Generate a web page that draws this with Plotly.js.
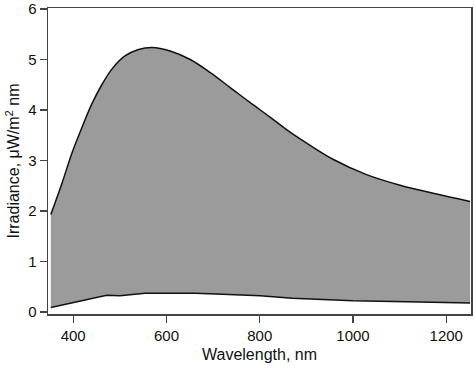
<!DOCTYPE html>
<html>
<head>
<meta charset="utf-8">
<script src="https://cdn.plot.ly/plotly-3.0.1.min.js"></script>
<style>html,body{margin:0;padding:0;background:#fff;}#chart{width:474px;height:370px;}</style>
</head>
<body>
<div id="chart"></div>
<script>
var upperWavelength = [352, 376, 397, 419, 440, 462, 483, 511, 540, 569, 608, 651, 694, 736, 779, 822, 865, 908, 958, 1029, 1101, 1172, 1251];
var upperIrradiance = [1.93, 2.55, 3.14, 3.66, 4.12, 4.51, 4.81, 5.07, 5.20, 5.24, 5.17, 5.00, 4.74, 4.45, 4.15, 3.86, 3.56, 3.30, 3.02, 2.72, 2.51, 2.35, 2.19];
var lowerWavelength = [352, 400, 440, 472, 500, 554, 620, 661, 720, 769, 801, 870, 944, 1000, 1086, 1170, 1251];
var lowerIrradiance = [0.09, 0.19, 0.27, 0.33, 0.32, 0.37, 0.37, 0.37, 0.35, 0.33, 0.32, 0.27, 0.24, 0.22, 0.21, 0.2, 0.18];
var xTicks = [400, 600, 800, 1000, 1200];
var yTicks = [0, 1, 2, 3, 4, 5, 6];

var traces = [
  {x: lowerWavelength, y: lowerIrradiance, mode: 'lines', line: {color: '#111', width: 1.5}, showlegend: false, hoverinfo: 'skip'},
  {x: upperWavelength, y: upperIrradiance, mode: 'lines', line: {color: '#111', width: 1.5, shape: 'spline', smoothing: 1},
   fill: 'tonexty', fillcolor: '#9b9b9b', showlegend: false, hoverinfo: 'skip'}
];
var font = {family: 'Liberation Sans, Arial, sans-serif', size: 15, color: '#111'};
var layout = {
  width: 474, height: 370,
  margin: {l: 48, r: 3, t: 8, b: 56},
  paper_bgcolor: '#fff', plot_bgcolor: '#fff',
  font: font,
  xaxis: {
    range: [346, 1253], tickvals: xTicks, ticktext: xTicks.map(String),
    ticks: 'outside', ticklen: 7, tickcolor: '#444', tickwidth: 1.2,
    showline: true, linecolor: '#444', linewidth: 1.5, mirror: true,
    showgrid: false, zeroline: false, tickfont: {size: 15},
    title: {text: 'Wavelength, nm', font: {size: 16}, standoff: 6}
  },
  yaxis: {
    range: [-0.04, 6.02], tickvals: yTicks, ticktext: yTicks.map(String),
    ticks: 'outside', ticklen: 7, tickcolor: '#444', tickwidth: 1.2,
    showline: true, linecolor: '#444', linewidth: 1.5, mirror: true,
    showgrid: false, zeroline: false, tickfont: {size: 15},
    title: {text: 'Irradiance, \u03bcW/m<sup>2</sup> nm', font: {size: 16}, standoff: 4}
  }
};
Plotly.newPlot('chart', traces, layout, {staticPlot: true, displayModeBar: false});
</script>
</body>
</html>
